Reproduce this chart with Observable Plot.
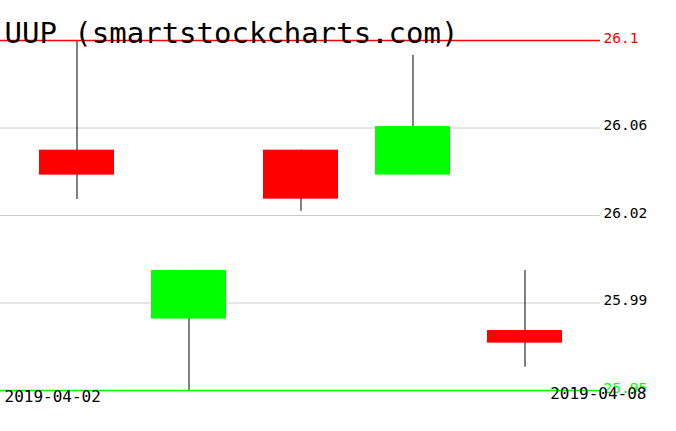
<!DOCTYPE html>
<html>
<head>
<meta charset="utf-8">
<script src="https://cdn.jsdelivr.net/npm/d3@7"></script>
<script src="https://cdn.jsdelivr.net/npm/@observablehq/plot@0.6"></script>
<style>
  html, body { margin: 0; padding: 0; background: #fff; }
</style>
</head>
<body>
<div id="chart"></div>
<script>
const title = "UUP (smartstockcharts.com)";
const dates = ["2019-04-02", "2019-04-03", "2019-04-04", "2019-04-05", "2019-04-08"];
const opens = [26.053, 25.9806, 26.053, 26.0423, 25.9757];
const highs = [26.1, 26.0014, 26.053, 26.0936, 26.0014];
const lows = [26.0319, 25.95, 26.0268, 26.0423, 25.96];
const closes = [26.0423, 26.0014, 26.032, 26.0631, 25.9703];
const tickValues = [25.95, 25.9875, 26.025, 26.0625, 26.1];
const tickLabels = ["25.95", "25.99", "26.02", "26.06", "26.1"];
const tickColors = ["#00ff00", "#cccccc", "#cccccc", "#cccccc", "#ff0000"];
const labelColors = ["#00ff00", "#000000", "#000000", "#000000", "#ff0000"];

const candles = dates.map((d, i) => ({
  date: d, open: opens[i], high: highs[i], low: lows[i], close: closes[i],
  color: closes[i] >= opens[i] ? "#00ff00" : "#ff0000"
}));
const ticks = tickValues.map((v, i) => ({
  value: v, label: tickLabels[i], line: tickColors[i], text: labelColors[i]
}));
const midTicks = ticks.filter(t => t.line === "#cccccc");
const edgeTicks = ticks.filter(t => t.line !== "#cccccc");

const chart = Plot.plot({
  width: 676,
  height: 431,
  marginLeft: 0,
  marginRight: 76,
  marginTop: 40,
  marginBottom: 41,
  style: { fontFamily: "DejaVu Sans Mono", background: "#fff", overflow: "visible" },
  x: { type: "band", domain: dates, paddingInner: 1/3, paddingOuter: 1/3, axis: null },
  y: { domain: [25.95, 26.1], axis: null },
  marks: [
    Plot.ruleY(midTicks, { y: "value", stroke: "line", strokeWidth: 1 }),
    Plot.ruleX(candles, { x: "date", y1: "low", y2: "high", stroke: "#000", strokeWidth: 1 }),
    Plot.barY(candles, { x: "date", y1: "open", y2: "close", fill: "color" }),
    Plot.ruleY(edgeTicks, { y: "value", stroke: "line", strokeWidth: 1.5 }),
    Plot.text(ticks, {
      y: "value", text: "label", fill: "text", frameAnchor: "right",
      textAnchor: "start", lineAnchor: "bottom", dx: 3, dy: 2, fontSize: 14.5
    }),
    Plot.text([title], {
      text: d => d, frameAnchor: "top-left", textAnchor: "start",
      lineAnchor: "bottom", dx: 4, dy: 2, fontSize: 29, fill: "#000"
    }),
    Plot.text([dates[0]], {
      text: d => d, frameAnchor: "bottom-left", textAnchor: "start",
      lineAnchor: "top", dx: 4, dy: 0, fontSize: 16, fill: "#000"
    }),
    Plot.text([dates[dates.length - 1]], {
      text: d => d, frameAnchor: "bottom-right", textAnchor: "end",
      lineAnchor: "top", dx: 46, dy: -3, fontSize: 16, fill: "#000"
    })
  ]
});
document.getElementById("chart").appendChild(chart);
</script>
</body>
</html>
